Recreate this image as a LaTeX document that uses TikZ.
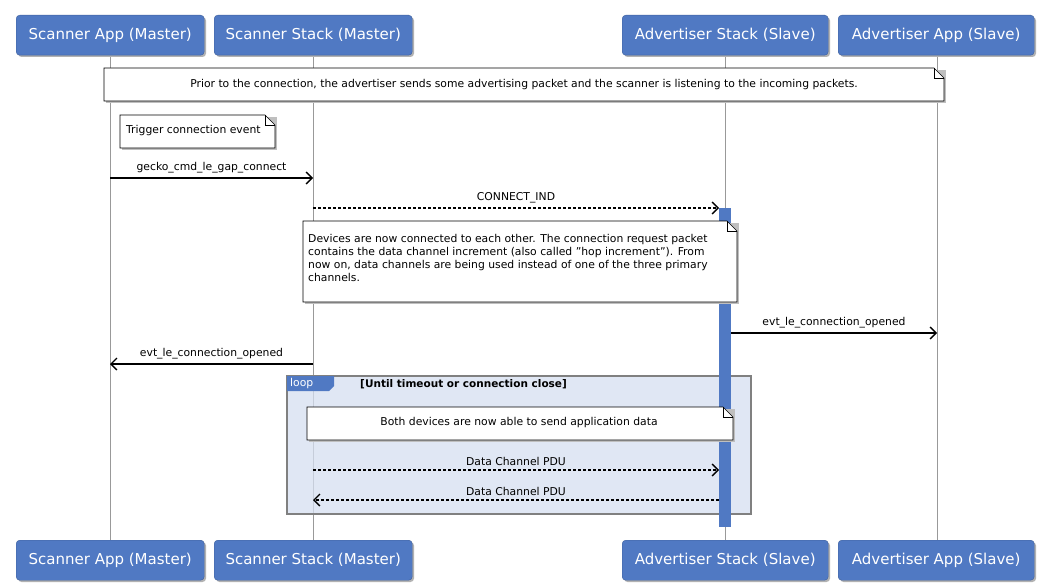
\documentclass[tikz,border=0pt]{standalone}
\usepackage{fontspec}
\setmainfont{DejaVu Sans}
\usetikzlibrary{arrows.meta}
\definecolor{pblue}{HTML}{5079C3}
\definecolor{loopbg}{HTML}{D6DFF0}
\begin{document}
\begin{tikzpicture}[x=1pt,y=-1pt,
  part/.style={fill=pblue,draw=pblue!80!black,rounded corners=3.5pt,text=white,font=\fontsize{15}{17}\selectfont,inner sep=0pt},
  life/.style={draw=gray!80,line width=1pt},
  note/.style={draw=black,fill=white,line width=0.6pt},
  txt/.style={font=\fontsize{10.8}{13}\selectfont,inner sep=0pt},
  msg/.style={line width=1.2pt,-{Straight Barb[length=6pt,width=12pt,line width=1.3pt]}},
  dmsg/.style={msg,dash pattern=on 3pt off 2pt}]
\useasboundingbox (0,0) rectangle (1051,583);
% lifelines
\foreach \x/\n in {110/a,313/b,725/c,937/d}{\draw[life] (\x,55) -- (\x,540);}
% participants
\foreach \y/\s in {15/t,540/u}{
 \fill[gray!60,rounded corners=3.5pt] (18,\y+2) rectangle (206,\y+42);
 \fill[gray!60,rounded corners=3.5pt] (216,\y+2) rectangle (414,\y+42);
 \fill[gray!60,rounded corners=3.5pt] (624,\y+2) rectangle (830,\y+42);
 \fill[gray!60,rounded corners=3.5pt] (840,\y+2) rectangle (1036,\y+42);
 \node[part,minimum width=188pt,minimum height=40pt,anchor=north west] (a\s) at (16,\y) {Scanner App (Master)};
 \node[part,minimum width=198pt,minimum height=40pt,anchor=north west] (b\s) at (214,\y) {Scanner Stack (Master)};
 \node[part,minimum width=206pt,minimum height=40pt,anchor=north west] (c\s) at (622,\y) {Advertiser Stack (Slave)};
 \node[part,minimum width=196pt,minimum height=40pt,anchor=north west] (d\s) at (838,\y) {Advertiser App (Slave)};
}
% note 1
\fill[gray!50] (106,70) rectangle (946,103);
\draw[note] (104,68) -- (934,68) -- (944,78) -- (944,101) -- (104,101) -- cycle;
\draw[line width=0.6pt] (934,68) -- (934,78) -- (944,78);
\node[txt] (n1) at (524,85) {Prior to the connection, the advertiser sends some advertising packet and the scanner is listening to the incoming packets.};
% note 2
\fill[gray!50] (122,117) rectangle (277,150);
\draw[note] (120,115) -- (265,115) -- (275,125) -- (275,148) -- (120,148) -- cycle;
\draw[line width=0.6pt] (265,115) -- (265,125) -- (275,125);
\node[txt,anchor=west] (n2) at (126,131) {Trigger connection event};
% msg 1
\coordinate (m1a) at (110,178); \coordinate (m1b) at (313,178);
\draw[msg] (m1a) -- (m1b) node[txt,midway,above=4pt] {gecko\_cmd\_le\_gap\_connect};
\coordinate (m2a) at (313,208); \coordinate (m2b) at (719,208);
\draw[dmsg] (m2a) -- (m2b) node[txt,midway,above=4pt] {CONNECT\_IND};
% loop
\draw[fill=loopbg,fill opacity=0.75,draw=gray,line width=1.2pt] (287,376) rectangle (751,514);
\fill[pblue] (287,376) -- (334,376) -- (334,386) -- (329,391) -- (287,391) -- cycle;
\node[txt,text=white,anchor=west] (lp) at (290,384) {loop};
\node[txt,anchor=west,font=\fontsize{10.5}{12}\selectfont\bfseries] (lc) at (360,384) {[Until timeout or connection close]};
% activation
\fill[pblue] (719,208) rectangle (731,527);
% note 3
\fill[gray!50] (305,223) rectangle (739,304);
\draw[note] (303,221) -- (727,221) -- (737,231) -- (737,302) -- (303,302) -- cycle;
\draw[line width=0.6pt] (727,221) -- (727,231) -- (737,231);
\node[txt,anchor=north west,align=left] (n3) at (308,234) {Devices are now connected to each other. The connection request packet\\contains the data channel increment (also called "hop increment"). From\\now on, data channels are being used instead of one of the three primary\\channels.};
\coordinate (m3a) at (731,333); \coordinate (m3b) at (937,333);
\draw[msg] (m3a) -- (m3b) node[txt,midway,above=4pt] {evt\_le\_connection\_opened};
\coordinate (m4a) at (313,364); \coordinate (m4b) at (110,364);
\draw[msg] (m4a) -- (m4b) node[txt,midway,above=4pt] {evt\_le\_connection\_opened};
\fill[gray!50] (309,409) rectangle (735,442);
\draw[note] (307,407) -- (723,407) -- (733,417) -- (733,440) -- (307,440) -- cycle;
\draw[line width=0.6pt] (723,407) -- (723,417) -- (733,417);
\node[txt] (n4) at (519,423) {Both devices are now able to send application data};
\coordinate (m5a) at (313,470); \coordinate (m5b) at (719,470);
\draw[dmsg] (m5a) -- (m5b) node[txt,midway,above=4pt] {Data Channel PDU};
\coordinate (m6a) at (719,500); \coordinate (m6b) at (313,500);
\draw[dmsg] (m6a) -- (m6b) node[txt,midway,above=4pt] {Data Channel PDU};
\end{tikzpicture}
\end{document}
